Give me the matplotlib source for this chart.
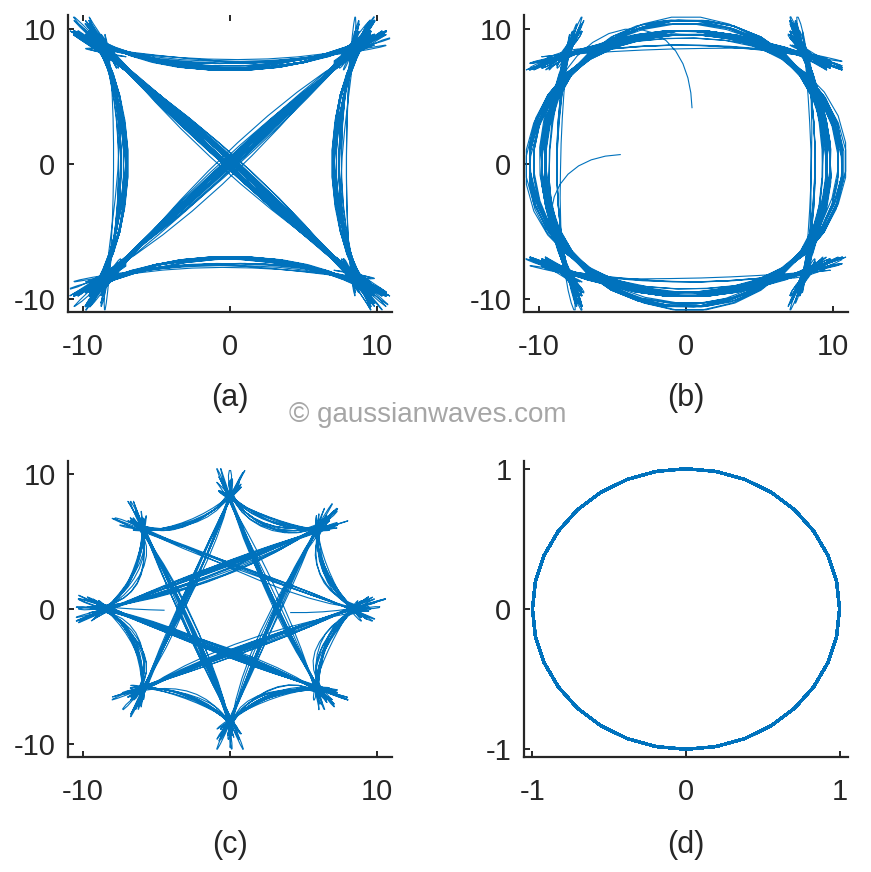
import numpy as np
import matplotlib.pyplot as plt

plt.rcParams['font.family'] = ['Liberation Sans', 'DejaVu Sans']
plt.rcParams['axes.unicode_minus'] = False

# transmitted bits, written in blocks of 10 bit pairs (one pair = one QPSK symbol)
bit_blocks = [
    "00001101100111100011", "01101011000111001001", "11110010010010110110",
    "10010011110110000111", "00101110010100111000", "11111010011000011100",
    "10010100111000110110", "00001101101101001001", "01101100001001111000",
    "11010001101011000111", "00111001000110110010", "10000111110010010100",
    "01111010000111001011", "11000110011100001110", "00100101100001111001",
    "11000110111001001101", "01111000001101101011", "10000101111000110100",
    "00111001100011110001", "11011010011110000110", "01",
]
bits = [int(c) for c in "".join(bit_blocks)]

amp = 8.2          # symbol level at the filter output
OF = 8             # samples per bit
alpha = 0.2        # roll-off of the SRRC filter
span = 10          # filter span in bits
pi4_start = 3      # reference phase of pi/4-DQPSK, in units of pi/4
pi4_step = {(0, 0): 1, (0, 1): 3, (1, 1): -3, (1, 0): -1}

blue = '#0072BD'
dark = '#262626'


def srrc(beta, nspan, sps):
    t = np.arange(-nspan * sps / 2, nspan * sps / 2 + 1) / sps
    p = np.zeros_like(t)
    for n, tt in enumerate(t):
        if np.isclose(tt, 0):
            p[n] = 1 - beta + 4 * beta / np.pi
        elif np.isclose(abs(4 * beta * tt), 1):
            p[n] = beta / np.sqrt(2) * ((1 + 2 / np.pi) * np.sin(np.pi / (4 * beta))
                                        + (1 - 2 / np.pi) * np.cos(np.pi / (4 * beta)))
        else:
            p[n] = (np.sin(np.pi * tt * (1 - beta)) + 4 * beta * tt * np.cos(np.pi * tt * (1 + beta))) \
                / (np.pi * tt * (1 - (4 * beta * tt) ** 2))
    return p / p.sum()


h = srrc(alpha, span, OF)
delay = (len(h) - 1) // 2


def shape(x):
    y = np.convolve(x, h)
    return amp * y[delay:delay + len(x)]


b = np.array(bits)
bI = 2 * b[0::2] - 1.0
bQ = 2 * b[1::2] - 1.0

# QPSK
qI = shape(np.repeat(bI, 2 * OF))
qQ = shape(np.repeat(bQ, 2 * OF))

# OQPSK (Q branch delayed by one bit)
oI = shape(np.r_[np.repeat(bI, 2 * OF), np.zeros(OF)])
oQ = shape(np.r_[np.zeros(OF), np.repeat(bQ, 2 * OF)])

# pi/4-DQPSK
steps = [pi4_step[(bits[k], bits[k + 1])] for k in range(0, len(bits), 2)]
phase = (pi4_start + np.cumsum(steps)) * np.pi / 4
pI = shape(np.repeat(np.cos(phase), 2 * OF))
pQ = shape(np.repeat(np.sin(phase), 2 * OF))

# MSK (phase moves +-pi/2 per bit)
dphi = np.repeat(np.where(b == 1, 1.0, -1.0), OF) * (np.pi / 2) / OF
mphi = np.r_[0, np.cumsum(dphi)]
mI = np.cos(mphi)
mQ = np.sin(mphi)

W, H = 871, 872
fig = plt.figure(figsize=(W / 100, H / 100), dpi=100)


def box(x0, y0, x1, y1):
    return [x0 / W, 1 - y1 / H, (x1 - x0) / W, (y1 - y0) / H]


axa = fig.add_axes(box(68, 15, 392, 312))
axb = fig.add_axes(box(524, 15, 848, 312))
axc = fig.add_axes(box(68, 461, 392, 757))
axd = fig.add_axes(box(524, 461, 848, 757))

axa.plot(qI, qQ, color=blue, lw=0.8)
axb.plot(oI, oQ, color=blue, lw=0.8)
axc.plot(pI, pQ, color=blue, lw=0.8)
axd.plot(mI, mQ, color=blue, lw=1.9)

for ax in (axa, axb, axc):
    ax.set_xlim(-11, 11)
    ax.set_ylim(-11, 11)
    ax.set_xticks([-10, 0, 10])
    ax.set_yticks([-10, 0, 10])
axd.set_xlim(-1.055, 1.055)
axd.set_ylim(-1.055, 1.055)
axd.set_xticks([-1, 0, 1])
axd.set_yticks([-1, 0, 1])

for ax in (axa, axb, axc, axd):
    ax.spines['top'].set_visible(False)
    ax.spines['right'].set_visible(False)
    for s in ('left', 'bottom'):
        ax.spines[s].set_linewidth(1.6)
        ax.spines[s].set_color(dark)
    ax.tick_params(direction='in', length=4, width=1.4, colors=dark, labelsize=21)
    ax.tick_params(axis='x', pad=15)
    ax.tick_params(axis='y', pad=9)
axa.tick_params(axis='x', top=True)

for ax, lab in zip((axa, axb, axc, axd), ['(a)', '(b)', '(c)', '(d)']):
    x0, y0, w, hh = ax.get_position().bounds
    yl = 398 if lab in ('(a)', '(b)') else 845
    fig.text(x0 + w / 2, 1 - yl / H, lab, ha='center', va='center', fontsize=22, color=dark)

fig.text(428 / W, 1 - 415 / H, '\u00a9 gaussianwaves.com', ha='center', va='center',
         fontsize=20, color='#a6a6a6')

fig.savefig('out.png', dpi=100)
